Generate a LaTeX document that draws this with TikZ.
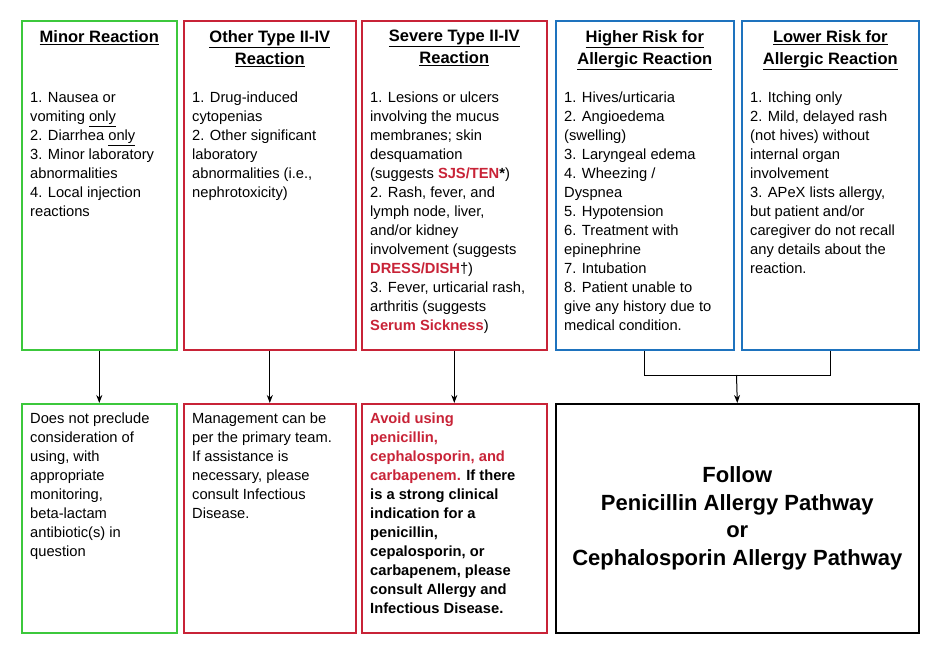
\documentclass[tikz,border=0pt]{standalone}
\usepackage{fontspec}
\setmainfont{Liberation Sans}
\usetikzlibrary{positioning,arrows.meta}
\definecolor{mgreen}{RGB}{60,200,60}
\definecolor{mred}{RGB}{200,35,55}
\definecolor{mblue}{RGB}{30,115,190}
\newcommand{\hl}[1]{\textcolor{mred}{\textbf{#1}}}
\begin{document}
\begin{tikzpicture}[x=1pt,y=-1pt,
  box/.style={draw, line width=1.6pt, anchor=north west, inner sep=0pt},
  head/.style={anchor=north, align=center, font=\fontsize{16.5}{22}\selectfont\bfseries, inner sep=0pt},
  body/.style={anchor=north west, align=left, font=\fontsize{14.7}{19}\selectfont, inner sep=0pt},
  arr/.style={line width=1pt, -{Stealth[length=8pt,width=6pt]}}]
\useasboundingbox (0,0) rectangle (938,651);
% top row
\node[box, draw=mgreen, minimum width=155pt, minimum height=329pt] (minor) at (21,20) {};
\node[box, draw=mred, minimum width=172pt, minimum height=329pt] (other) at (183,20) {};
\node[box, draw=mred, minimum width=185pt, minimum height=329pt] (severe) at (361,20) {};
\node[box, draw=mblue, minimum width=178pt, minimum height=329pt] (high) at (555,20) {};
\node[box, draw=mblue, minimum width=177pt, minimum height=329pt] (low) at (741,20) {};
\node[head, below=10pt of minor.north] (minorT) {\underline{Minor Reaction}};
\node[head, below=10pt of other.north] (otherT) {\underline{Other Type II-IV}\\\underline{Reaction}};
\node[head, below=10pt of severe.north] (severeT) {\underline{Severe Type II-IV}\\\underline{Reaction}};
\node[head, below=10pt of high.north] (highT) {\underline{Higher Risk for}\\\underline{Allergic Reaction}};
\node[head, below=10pt of low.north] (lowT) {\underline{Lower Risk for}\\\underline{Allergic Reaction}};
\node[body] (minorB) at ([shift={(9pt,-72pt)}]minor.north west)
  {1. Nausea or\\vomiting \underline{only}\\2. Diarrhea \underline{only}\\3. Minor laboratory\\abnormalities\\4. Local injection\\reactions};
\node[body] (otherB) at ([shift={(9pt,-72pt)}]other.north west)
  {1. Drug-induced\\cytopenias\\2. Other significant\\laboratory\\abnormalities (i.e.,\\nephrotoxicity)};
\node[body] (severeB) at ([shift={(9pt,-72pt)}]severe.north west)
  {1. Lesions or ulcers\\involving the mucus\\membranes; skin\\desquamation\\(suggests \hl{SJS/TEN}\textbf{*})\\2. Rash, fever, and\\lymph node, liver,\\and/or kidney\\involvement (suggests\\\hl{DRESS/DISH}\dag)\\3. Fever, urticarial rash,\\arthritis (suggests\\\hl{Serum Sickness})};
\node[body] (highB) at ([shift={(9pt,-72pt)}]high.north west)
  {1. Hives/urticaria\\2. Angioedema\\(swelling)\\3. Laryngeal edema\\4. Wheezing /\\Dyspnea\\5. Hypotension\\6. Treatment with\\epinephrine\\7. Intubation\\8. Patient unable to\\give any history due to\\medical condition.};
\node[body] (lowB) at ([shift={(9pt,-72pt)}]low.north west)
  {1. Itching only\\2. Mild, delayed rash\\(not hives) without\\internal organ\\involvement\\3. APeX lists allergy,\\but patient and/or\\caregiver do not recall\\any details about the\\reaction.};
% bottom row
\node[box, draw=mgreen, minimum width=155pt, minimum height=229pt] (minorR) at (21,403) {};
\node[box, draw=mred, minimum width=172pt, minimum height=229pt] (otherR) at (183,403) {};
\node[box, draw=mred, minimum width=185pt, minimum height=229pt] (severeR) at (361,403) {};
\node[box, draw=black, minimum width=363pt, minimum height=229pt] (follow) at (555,403) {};
\node[body] at ([shift={(9pt,-10pt)}]minorR.north west)
  {Does not preclude\\consideration of\\using, with\\appropriate\\monitoring,\\beta-lactam\\antibiotic(s) in\\question};
\node[body] at ([shift={(9pt,-10pt)}]otherR.north west)
  {Management can be\\per the primary team.\\If assistance is\\necessary, please\\consult Infectious\\Disease.};
\node[body, font=\fontsize{14.7}{19}\selectfont\bfseries] at ([shift={(9pt,-10pt)}]severeR.north west)
  {\textcolor{mred}{Avoid using}\\\textcolor{mred}{penicillin,}\\\textcolor{mred}{cephalosporin, and}\\\textcolor{mred}{carbapenem.} If there\\is a strong clinical\\indication for a\\penicillin,\\cepalosporin, or\\carbapenem, please\\consult Allergy and\\Infectious Disease.};
\node[align=center, font=\fontsize{22}{27.5}\selectfont\bfseries] at (follow.center)
  {Follow\\Penicillin Allergy Pathway\\or\\Cephalosporin Allergy Pathway};
% connectors
\coordinate (join) at (736.5,375);
\draw[arr] (minor.south) -- (minorR.north);
\draw[arr] (other.south) -- (otherR.north);
\draw[arr] (severe.south) -- (severeR.north);
\draw[line width=1pt] (high.south) |- (join);
\draw[line width=1pt] (low.south) |- (join);
\draw[arr] (join) -- (follow.north);
\end{tikzpicture}
\end{document}
